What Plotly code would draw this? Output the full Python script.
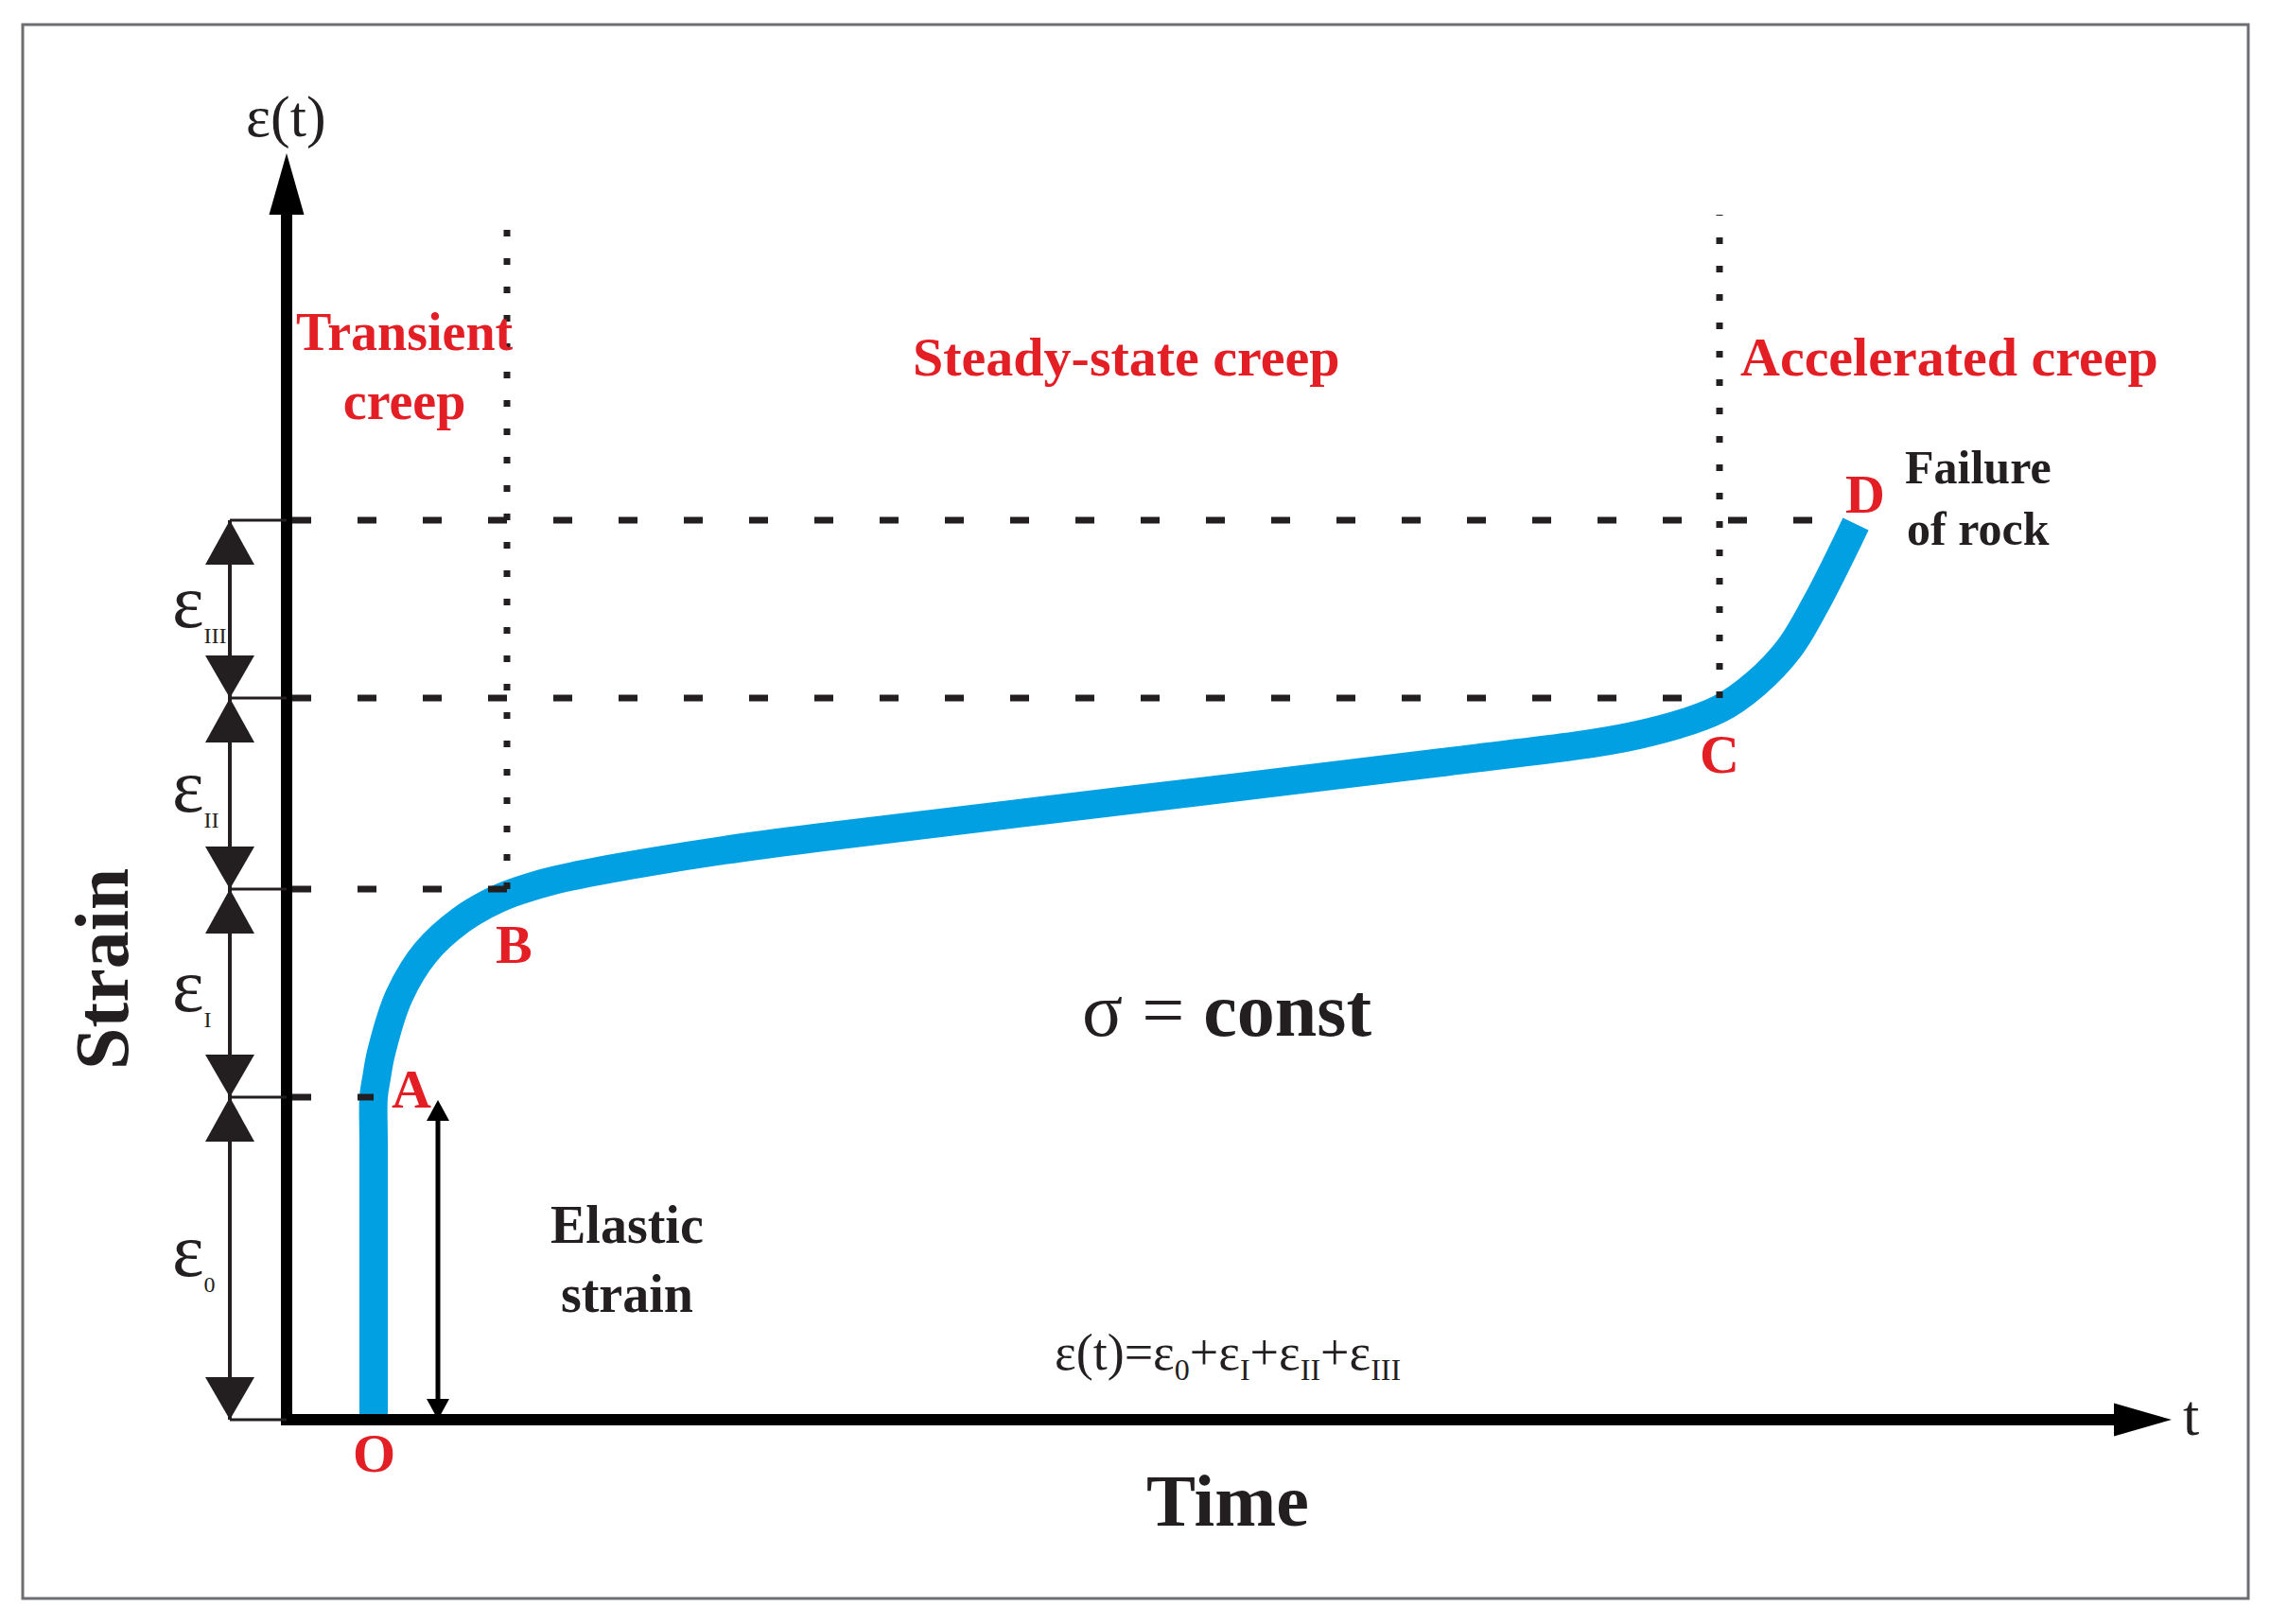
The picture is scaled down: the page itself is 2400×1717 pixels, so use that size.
import plotly.graph_objects as go

# creep curve (time, strain in arbitrary units; origin at the axes corner)
time = [0.92, 0.92, 0.92, 0.95, 1.00, 1.19, 1.47, 1.84, 2.24, 2.74, 3.09, 3.86, 4.62, 5.59, 8.90, 12.22, 14.29, 15.14, 15.53, 15.89, 16.17, 16.46, 16.59]
strain = [0.00, 2.90, 3.41, 3.61, 3.88, 4.48, 4.94, 5.28, 5.51, 5.68, 5.76, 5.90, 6.02, 6.15, 6.55, 6.95, 7.24, 7.51, 7.78, 8.16, 8.63, 9.20, 9.47]

# characteristic points O, A, B, C, D
point_names = ["O", "A", "B", "C", "D"]
point_time = [0.92, 0.92, 2.33, 15.15, 16.45]
point_strain = [0.00, 3.41, 5.61, 7.63, 9.51]

# strain components between successive levels
component_subs = ["0", "I", "II", "III"]

stage_names = ["Transient<br>creep", "Steady-state creep", "Accelerated creep"]

RED = "#e31e24"
DARK = "#231f20"
BLUE = "#00a0e3"
FONT = "Liberation Serif"

fig = go.Figure()

fig.add_trace(go.Scatter(
    x=time, y=strain, mode="lines",
    line=dict(color=BLUE, width=30, shape="spline", smoothing=1.0),
    hoverinfo="skip", showlegend=False
))

shapes = []


def tri(x, y, w, h, d, color=DARK):
    # filled triangle with its tip at (x, y); d is the direction it points
    if d == "up":
        p = f"M{x},{y} L{x - w},{y - h} L{x + w},{y - h} Z"
    elif d == "down":
        p = f"M{x},{y} L{x - w},{y + h} L{x + w},{y + h} Z"
    else:  # right
        p = f"M{x},{y} L{x - h},{y - w} L{x - h},{y + w} Z"
    return dict(type="path", path=p, xref="x", yref="y", fillcolor=color, line=dict(width=0))


def seg(x0, y0, x1, y1, color=DARK, width=3, dash=None):
    return dict(type="line", xref="x", yref="y", x0=x0, y0=y0, x1=x1, y1=y1,
                line=dict(color=color, width=width, dash=dash))


# frame
shapes.append(dict(type="rect", xref="x", yref="y", x0=-2.79, x1=20.74, y0=-1.89, y1=14.75,
                   line=dict(color="#6d6e71", width=3)))

# axes with arrow heads
y_top, y_tip = 12.74, 13.39
x_end, x_tip = 19.32, 19.93
shapes.append(seg(0, -0.06, 0, y_top, "black", 12))
shapes.append(seg(-0.06, 0, x_end, 0, "black", 12))
shapes.append(tri(0, y_tip, 0.185, y_tip - y_top, "up", "black"))
shapes.append(tri(x_tip, 0, 0.175, x_tip - x_end, "right", "black"))

# dashed strain levels (A, B, C, D) and dotted stage boundaries (B, C)
for t, e in zip(point_time[1:], point_strain[1:]):
    shapes.append(seg(0.06, e, t, e, DARK, 7, "20px,49px"))
for t, e in zip(point_time[2:4], point_strain[2:4]):
    shapes.append(seg(t, e, t, y_top, DARK, 7, "7px,23px"))

# bracket with strain components on the left
bx = -0.60
shapes.append(seg(bx, point_strain[0], bx, point_strain[-1], DARK, 4))
for e in point_strain:
    shapes.append(seg(bx, e, 0, e, DARK, 3))
for lo, hi in zip(point_strain[:-1], point_strain[1:]):
    shapes.append(tri(bx, hi, 0.26, 0.47, "up"))
    shapes.append(tri(bx, lo, 0.26, 0.45, "down"))

# elastic strain double arrow
ex = 1.60
shapes.append(seg(ex, 0.1, ex, point_strain[1] - 0.1, "black", 5))
shapes.append(tri(ex, point_strain[1] - 0.03, 0.12, 0.22, "up", "black"))
shapes.append(tri(ex, 0.0, 0.12, 0.22, "down", "black"))

ann = []


def txt(x, y, text, size, color=DARK, **kw):
    ann.append(dict(x=x, y=y, xref="x", yref="y", text=text, showarrow=False,
                    font=dict(family=FONT, size=size, color=color), **kw))


# point letters
offsets = {"O": (0, -0.35), "A": (0.40, 0.09), "B": (0.07, -0.58), "C": (0, -0.59), "D": (0.24, 0.28)}
for n, t, e in zip(point_names, point_time, point_strain):
    dx, dy = offsets[n]
    txt(t + dx, e + dy, f"<b>{n}</b>", 58, RED)

# stage titles
txt(1.25, 11.14, f"<b>{stage_names[0]}</b>", 56, RED)
txt(8.88, 11.24, f"<b>{stage_names[1]}</b>", 58, RED)
txt(17.58, 11.24, f"<b>{stage_names[2]}</b>", 58, RED)

# component labels at the middle of each bracket segment
for sub, lo, hi in zip(component_subs, point_strain[:-1], point_strain[1:]):
    txt(-1.23, (lo + hi) / 2 + 0.06, f"ε<sub><span style='font-size:24px'>{sub}</span></sub>", 80,
        xanchor="left")

sub = "<sub><span style='font-size:32px'>{}</span></sub>"
txt(-0.01, 13.78, "ε(t)", 62)
txt(20.13, 0.05, "t", 62)
txt(-1.95, 4.76, "<b>Strain</b>", 80, textangle=-90)
txt(9.95, -0.85, "<b>Time</b>", 78)
txt(3.60, 1.70, "<b>Elastic<br>strain</b>", 56)
txt(9.94, 4.33, "σ = <b>const</b>", 80)
txt(17.88, 9.75, "<b>Failure<br>of rock</b>", 50)
txt(9.95, 0.68,
    "ε(t)=ε" + sub.format("0") + "+ε" + sub.format("I") + "+ε" + sub.format("II") + "+ε" + sub.format("III"), 54)

# the page body adds an 8px margin, so the figure is made 16px smaller and the ranges shifted
fig.update_layout(
    width=2384, height=1701,
    margin=dict(l=0, r=0, t=0, b=0),
    paper_bgcolor="white", plot_bgcolor="white",
    xaxis=dict(range=[-2.95, 20.89], visible=False, fixedrange=True),
    yaxis=dict(range=[-2.08, 14.93], visible=False, fixedrange=True),
    shapes=shapes, annotations=ann, showlegend=False
)

fig.write_html("out.html")
